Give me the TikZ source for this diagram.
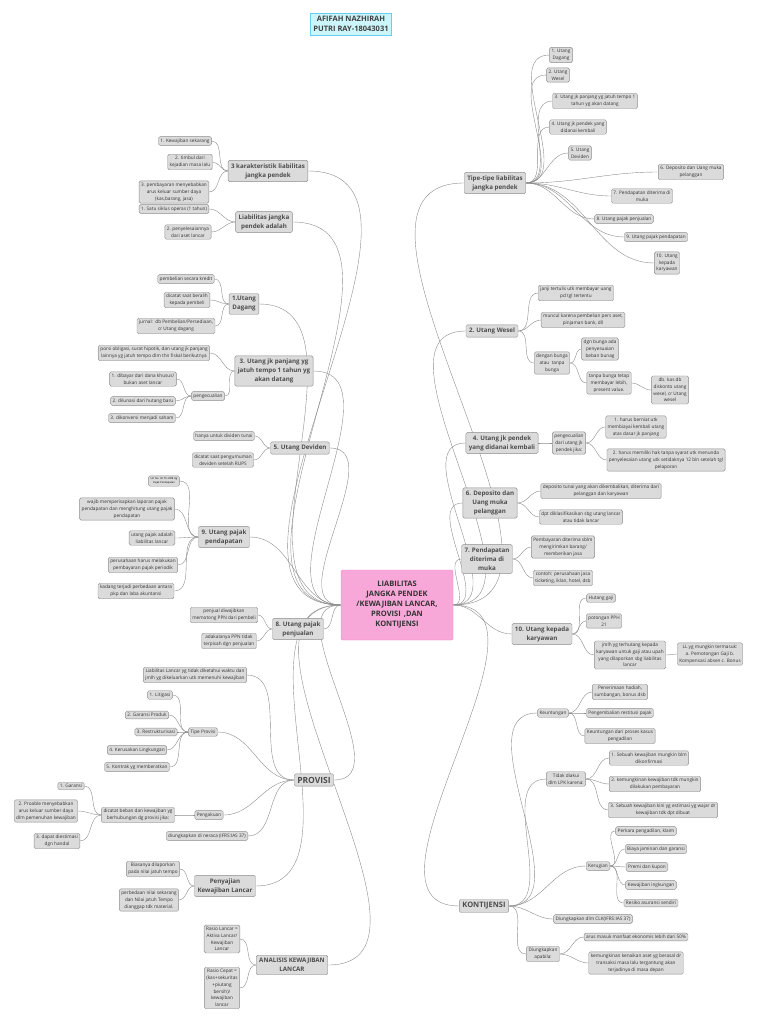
\documentclass[tikz,border=0pt]{standalone}
\usepackage{tikz}
\usetikzlibrary{backgrounds}
\usepackage{fontspec}
\setmainfont{Open Sans}
\definecolor{boxgray}{rgb}{0.86, 0.86, 0.86}
\definecolor{linegray}{rgb}{0.55, 0.55, 0.55}
\definecolor{titlecyan}{rgb}{0.80, 0.96, 0.98}
\definecolor{centerpink}{rgb}{0.97, 0.66, 0.85}
\begin{document}
\begin{tikzpicture}[x=1pt,y=-1pt, leaf/.style={rectangle, rounded corners=1.5pt, fill=boxgray, draw=linegray, align=center, inner sep=2pt, font=\fontsize{4.7}{6.8}\selectfont\color{black!80}}, branch/.style={leaf, inner sep=3pt, font=\fontsize{6.2}{9}\selectfont\bfseries\color{black!70}}, link/.style={draw=linegray, thin}]
			\useasboundingbox (0,0) rectangle (768,1024);
			\node [rectangle, fill=titlecyan, draw=cyan!60, align=center, inner sep=3pt, font=\fontsize{7.5}{10}\selectfont\bfseries\color{black!75}] (TITLE) at (351,24) {AFIFAH NAZHIRAH\\PUTRI RAY-18043031};
			\node [rectangle, rounded corners=1.5pt, fill=centerpink, draw=magenta!50, align=center, minimum width=112pt, minimum height=70pt, font=\fontsize{7.5}{10}\selectfont\bfseries\color{black!80}] (CORE) at (397,605) {LIABILITAS\\JANGKA PENDEK\\/KEWAJIBAN LANCAR,\\PROVISI \,,DAN\\KONTIJENSI};
			% left side
			\node [branch] (KAR) at (268,171) {3 karakteristik liabilitas\\jangka pendek};
			\node [leaf] (KARA) at (185,141) {1. Kewajiban sekarang};
			\node [leaf] (KARB) at (190,162) {2. timbul dari\\kejadian masa lalu};
			\node [leaf] (KARC) at (174,192) {3. pembayaran menyebabkan\\arus keluar sumber daya\\(kas,barang, jasa)};
			\node [branch] (DEF) at (264,222) {Liabilitas jangka\\pendek adalah};
			\node [leaf] (DEFA) at (174,209) {1. Satu siklus operas (1 tahun)};
			\node [leaf] (DEFB) at (188,232) {2. penyelesaiannya\\dari aset lancar};
			\node [branch] (UD) at (244,304) {1.Utang\\Dagang};
			\node [leaf] (UDA) at (186,279) {pembelian secara kredit};
			\node [leaf] (UDB) at (187,300) {dicatat saat beralih\\kepada pembeli};
			\node [leaf] (UDC) at (176,326) {jurnal:\ \ db Pembelian/Persediaan,\\cr Utang dagang};
			\node [branch] (UJP) at (274,371) {3. Utang jk panjang yg\\jatuh tempo 1 tahun yg\\akan datang};
			\node [leaf] (UJPA) at (154,353) {porsi obligasi, surat hipotik, dan utang jk panjang\\lainnya yg jatuh tempo dlm thn fiskal berikutnya};
			\node [leaf] (UJPB) at (208,396) {pengecualian};
			\node [leaf] (UJPB1) at (143,379) {1. dibayar dari dana khusus/\\bukan aset lancar};
			\node [leaf] (UJPB2) at (143,401) {2. dilunasi dari hutang baru};
			\node [leaf] (UJPB3) at (142,418) {3. dikonversi menjadi saham};
			\node [branch] (DEV) at (300,448) {5. Utang Deviden};
			\node [leaf] (DEVA) at (224,436) {hanya untuk dividen tunai};
			\node [leaf] (DEVB) at (223,460) {dicatat saat pengumuman\\deviden setelah RUPS};
			\node [branch] (PPD) at (224,537) {9. Utang pajak\\pendapatan};
			\node [leaf, font=\fontsize{2.6}{3.8}\selectfont] (PPDA) at (164,481) {UU No. 36 Th 2008 ttg\\Pajak Pendapatan};
			\node [leaf] (PPDB) at (127,509) {wajib memperisapkan laporan pajak\\pendapatan dan menghitung utang pajak\\pendapatan};
			\node [leaf] (PPDC) at (152,538) {utang pajak adalah\\liabilitas lancar};
			\node [leaf] (PPDD) at (143,565) {perusahaan harus melakukan\\pembayaran pajak periodik};
			\node [leaf] (PPDE) at (136,591) {kadang terjadi perbedaan antara\\pkp dan laba akuntansi};
			\node [branch] (PPJ) at (298,629) {8. Utang pajak\\penjualan};
			\node [leaf] (PPJA) at (224,615) {penjual diwajibkan\\memotong PPN dari pembeli};
			\node [leaf] (PPJB) at (229,641) {adakalanya PPN tidak\\terpisah dgn penjualan};
			\node [branch, font=\fontsize{8.5}{11}\selectfont\bfseries\color{black!70}] (PRV) at (314,780) {PROVISI};
			\node [leaf] (PRVA) at (195,675) {Liabilitas Lancar yg tidak diketahui waktu dan\\jmlh yg dikeluarkan utk memenuhi kewajiban};
			\node [leaf] (TIP) at (203,732) {Tipe Provisi};
			\node [leaf] (TIPA) at (160,695) {1. Litigasi};
			\node [leaf] (TIPB) at (147,715) {2. Garansi Produk};
			\node [leaf] (TIPC) at (156,732) {3. Restrukturisasi};
			\node [leaf] (TIPD) at (137,750) {4. Kerusakan Lingkungan};
			\node [leaf] (TIPE) at (137,767) {5. Kontrak yg memberatkan};
			\node [leaf] (AKU) at (209,815) {Pengakuan};
			\node [leaf] (AKUS) at (138,815) {dicatat beban dan kewajiban yg\\berhubungan dg provisi jika:};
			\node [leaf] (AKUA) at (71,786) {1. Garansi};
			\node [leaf] (AKUB) at (46,811) {2. Proable menyebabkan\\arus keluar sumber daya\\dlm pemenuhan kewajiban};
			\node [leaf] (AKUC) at (57,841) {3. dapat diestimasi\\dgn handal};
			\node [leaf] (PRVD) at (207,836) {diungkapkan di neraca (IFRS:IAS 37)};
			\node [branch] (SAJ) at (225,886) {Penyajian\\Kewajiban Lancar};
			\node [leaf] (SAJA) at (153,869) {Biasanya dilaporkan\\pada nilai jatuh tempo};
			\node [leaf] (SAJB) at (149,900) {perbedaan nilai sekarang\\dan Nilai jatuh Tempo\\dianggap tdk material.};
			\node [branch] (ANL) at (292,965) {ANALISIS KEWAJIBAN\\LANCAR};
			\node [leaf] (ANLA) at (222,939) {Rasio Lancar =\\Aktiva Lancar/\\Kewajiban\\Lancar};
			\node [leaf] (ANLB) at (222,988) {Rasio Cepat =\\(kas+sekuritas\\+piutang\\bersih)/\\kewajiban\\lancar};
			% right side
			\node [branch] (TT) at (495,183) {Tipe-tipe liabilitas\\jangka pendek};
			\node [leaf] (TT1) at (561,55) {1. Utang\\Dagang};
			\node [leaf] (TT2) at (558,75) {2. Utang\\Wesel};
			\node [leaf] (TT3) at (595,101) {3. Utang jk panjang yg jatuh tempo 1\\tahun yg akan datang};
			\node [leaf] (TT4) at (578,127) {4. Utang jk pendek yang\\didanai kembali};
			\node [leaf] (TT5) at (580,153) {5. Utang\\Deviden};
			\node [leaf] (TT6) at (691,172) {6. Deposito dan Uang muka\\pelanggan};
			\node [leaf] (TT7) at (642,196) {7. Pendapatan diterima di\\muka};
			\node [leaf] (TT8) at (624,219) {8. Utang pajak penjualan};
			\node [leaf] (TT9) at (656,237) {9. Utang pajak pendapatan};
			\node [leaf] (TT10) at (667,263) {10. Utang\\kepada\\karyawan};
			\node [branch] (UW) at (492,331) {2. Utang Wesel};
			\node [leaf] (UWA) at (576,293) {janji tertulis utk membayar uang\\pd tgl tertentu};
			\node [leaf] (UWB) at (583,320) {muncul karena pembelian pers aset,\\pinjaman bank, dll};
			\node [leaf] (UWC) at (552,363) {dengan bunga\\atau \ tanpa\\bunga};
			\node [leaf] (UWC1) at (600,349) {dgn bunga ada\\penyesuaian\\beban bunag};
			\node [leaf] (UWC2) at (609,383) {tanpa bunga tetap\\membayar lebih,\\present value.};
			\node [leaf] (UWC3) at (670,390) {db. kas db\\diskonto utang\\wesel, cr Utang\\wesel};
			\node [branch] (DK) at (502,443) {4. Utang jk pendek\\yang didanai kembali};
			\node [leaf] (DKS) at (569,443) {pengecualian\\dari utang jk\\pendek jika:};
			\node [leaf] (DKA) at (636,427) {1. harus berniat utk\\membiayai kembali utang\\atas dasar jk panjang};
			\node [leaf] (DKB) at (666,460) {2. harus memiliki hak tanpa syarat utk menunda\\penyelesaian utang utk setidaknya 12 bln setelah tgl\\pelaporan};
			\node [branch] (DP) at (490,503) {6. Deposito dan\\Uang muka\\pelanggan};
			\node [leaf] (DPA) at (601,491) {deposito tunai yang akan dikembalikan, diterima dari\\pelanggan dan karyawan};
			\node [leaf] (DPB) at (581,517) {dpt diklasifikasikan sbg utang lancar\\atau tidak lancar};
			\node [branch] (PD) at (487,559) {7. Pendapatan\\diterima di\\muka};
			\node [leaf] (PDA) at (563,547) {Pembayaran diterima sblm\\mengirimkan barang/\\memberikan jasa};
			\node [leaf] (PDB) at (563,578) {contoh: perusahaan jasa\\ticketing, iklan, hotel, dsb};
			\node [branch] (UK) at (542,634) {10. Utang kepada\\karyawan};
			\node [leaf] (UKA) at (601,598) {Hutang gaji};
			\node [leaf] (UKB) at (604,621) {potongan PPH\\21};
			\node [leaf] (UKC) at (630,655) {jmlh yg terhutang kepada\\karyawan untuk gaji atau upah\\yang dilaporkan sbg liabilitas\\lancar};
			\node [leaf] (UKD) at (710,654) {LL yg mungkin termasuk:\\a. Pemotongan Gaji b.\\Kompensasi absen c. Bonus};
			\node [branch, font=\fontsize{7.5}{10}\selectfont\bfseries\color{black!70}] (KON) at (484,906) {KONTIJENSI};
			\node [leaf] (UNT) at (553,713) {Keuntungan};
			\node [leaf] (UNTA) at (620,692) {Penerimaan hadiah,\\sumbangan, bonus dsb};
			\node [leaf] (UNTB) at (620,713) {Pengembalian restitusi pajak};
			\node [leaf] (UNTC) at (620,736) {Keuntungan dari proses kasus\\pengadilan};
			\node [leaf] (TDK) at (566,779) {Tidak diakui\\dlm LPK karena:};
			\node [leaf] (TDKA) at (649,758) {1. Sebuah kewajiban mungkin blm\\dikonfirmasi};
			\node [leaf] (TDKB) at (655,784) {2. kemungkinan kewajiban tdk mungkin\\dilakukan pembayaran};
			\node [leaf] (TDKC) at (663,810) {3. Sebuah kewajiban kini yg estimasi yg wajar dr\\kewajiban tdk dpt dibuat};
			\node [leaf] (RUG) at (598,866) {Kerugian};
			\node [leaf] (RUGA) at (646,831) {Perkara pengadilan, klaim};
			\node [leaf] (RUGB) at (656,849) {Biaya jaminan dan garansi};
			\node [leaf] (RUGC) at (647,867) {Premi dan kupon};
			\node [leaf] (RUGD) at (651,885) {Kewajiban ingkungan};
			\node [leaf] (RUGE) at (651,903) {Resiko asuransi sendiri};
			\node [leaf] (CLK) at (593,919) {Diungkapkan dlm CLK(IFRS:IAS 37)};
			\node [leaf] (APA) at (543,954) {Diungkapkan\\apabila:};
			\node [leaf] (APAA) at (636,937) {arus masuk manfaat ekonomis lebih dari 50\%};
			\node [leaf] (APAB) at (636,963) {kemungkinan kenaikan aset yg berasal dr\\transaksi masa lalu tergantung akan\\terjadinya di masa depan};
			\begin{scope}[on background layer]
			% connectors, left
			\foreach \b in {KAR,DEF,UD,UJP,DEV,PPD,PPJ,PRV,SAJ,ANL}
				\path [link] (CORE.west) edge [out=180, in=0] (\b.east);
			\foreach \p/\c in {KAR/KARA,KAR/KARB,KAR/KARC,DEF/DEFA,DEF/DEFB,UD/UDA,UD/UDB,UD/UDC,UJP/UJPA,UJP/UJPB,UJPB/UJPB1,UJPB/UJPB2,UJPB/UJPB3,DEV/DEVA,DEV/DEVB,PPD/PPDA,PPD/PPDB,PPD/PPDC,PPD/PPDD,PPD/PPDE,PPJ/PPJA,PPJ/PPJB,PRV/PRVA,PRV/TIP,TIP/TIPA,TIP/TIPB,TIP/TIPC,TIP/TIPD,TIP/TIPE,PRV/AKU,AKU/AKUS,AKUS/AKUA,AKUS/AKUB,AKUS/AKUC,PRV/PRVD,SAJ/SAJA,SAJ/SAJB,ANL/ANLA,ANL/ANLB}
				\path [link] (\p.west) edge [out=180, in=0] (\c.east);
			% connectors, right
			\foreach \b in {TT,UW,DK,DP,PD,UK,KON}
				\path [link] (CORE.east) edge [out=0, in=180] (\b.west);
			\foreach \p/\c in {TT/TT1,TT/TT2,TT/TT3,TT/TT4,TT/TT5,TT/TT6,TT/TT7,TT/TT8,TT/TT9,TT/TT10,UW/UWA,UW/UWB,UW/UWC,UWC/UWC1,UWC/UWC2,UWC2/UWC3,DK/DKS,DKS/DKA,DKS/DKB,DP/DPA,DP/DPB,PD/PDA,PD/PDB,UK/UKA,UK/UKB,UK/UKC,UKC/UKD,KON/UNT,UNT/UNTA,UNT/UNTB,UNT/UNTC,KON/TDK,TDK/TDKA,TDK/TDKB,TDK/TDKC,KON/RUG,RUG/RUGA,RUG/RUGB,RUG/RUGC,RUG/RUGD,RUG/RUGE,KON/CLK,KON/APA,APA/APAA,APA/APAB}
				\path [link] (\p.east) edge [out=0, in=180] (\c.west);
			\end{scope}
		\end{tikzpicture}
\end{document}
